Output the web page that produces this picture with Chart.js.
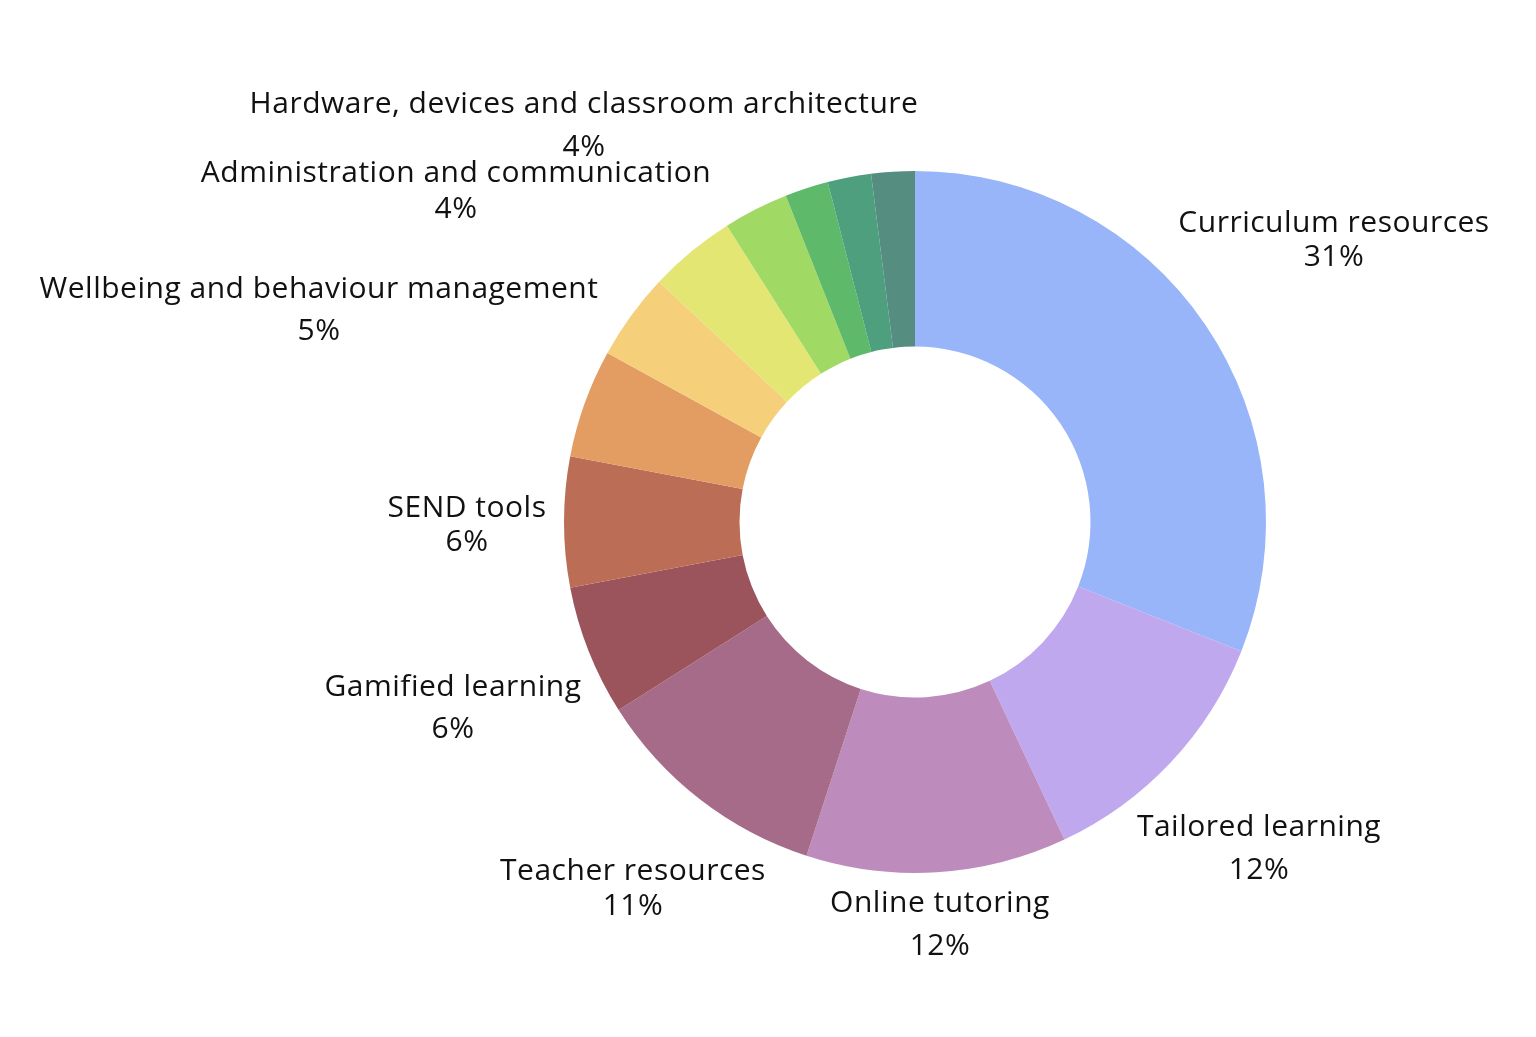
<!DOCTYPE html>
<html>
<head>
<meta charset="utf-8">
<script src="https://cdn.jsdelivr.net/npm/chart.js@4"></script>
<style>
  html, body { margin: 0; padding: 0; background: #ffffff; }
  #wrap { width: 1536px; height: 1037px; position: relative; }
</style>
</head>
<body>
<div id="wrap"><canvas id="c" width="1536" height="1037"></canvas></div>
<script>
const categories = [
  "Curriculum resources",
  "Tailored learning",
  "Online tutoring",
  "Teacher resources",
  "Gamified learning",
  "SEND tools",
  "Wellbeing and behaviour management",
  "Administration and communication",
  "Hardware, devices and classroom architecture",
  "",
  "",
  "",
  ""
];
const shares = [31, 12, 12, 11, 6, 6, 5, 4, 4, 3, 2, 2, 2];
const valueLabels = ["31%", "12%", "12%", "11%", "6%", "6%", "5%", "4%", "4%", "", "", "", ""];
const colors = [
  "#97B5F8", "#BFA8EE", "#BE8BBD", "#A56B88", "#9B545B", "#BC6D55",
  "#E39C62", "#F6CF7A", "#E4E673", "#A0DA64", "#5FB96A", "#4E9F7E", "#558E80"
];

// label anchor offsets relative to the doughnut centre, in px at radius 351
const labelAnchors = [
  [419, -299, -265],
  [344, 305, 348],
  [25, 381, 424],
  [-282, 349, 384],
  [-462, 165, 207],
  [-448, -14, 20],
  [-596, -233, -191],
  [-459, -349, -313],
  [-331, -418, -375]
];

const labelPlugin = {
  id: 'outerLabels',
  afterDatasetsDraw(chart) {
    const ctx = chart.ctx;
    const meta = chart.getDatasetMeta(0);
    ctx.save();
    ctx.fillStyle = '#111111';
    ctx.font = '30px "Open Sans"';
    if ('letterSpacing' in ctx) ctx.letterSpacing = '0.5px';
    ctx.textAlign = 'center';
    ctx.textBaseline = 'middle';
    meta.data.forEach((arc, i) => {
      if (!categories[i]) return;
      const a = labelAnchors[i];
      if (!a) return;
      const k = arc.outerRadius / 351;
      const x = arc.x + a[0] * k;
      ctx.fillText(categories[i], x, arc.y + a[1] * k);
      ctx.fillText(valueLabels[i], x, arc.y + a[2] * k);
    });
    ctx.restore();
  }
};

new Chart(document.getElementById('c'), {
  type: 'doughnut',
  data: {
    labels: categories,
    datasets: [{
      data: shares,
      backgroundColor: colors,
      borderWidth: 0,
      hoverOffset: 0
    }]
  },
  options: {
    responsive: false,
    animation: false,
    cutout: '50%',
    layout: { padding: { left: 564, right: 270, top: 171, bottom: 164 } },
    plugins: {
      legend: { display: false },
      tooltip: { enabled: false }
    }
  },
  plugins: [labelPlugin]
});
</script>
</body>
</html>
